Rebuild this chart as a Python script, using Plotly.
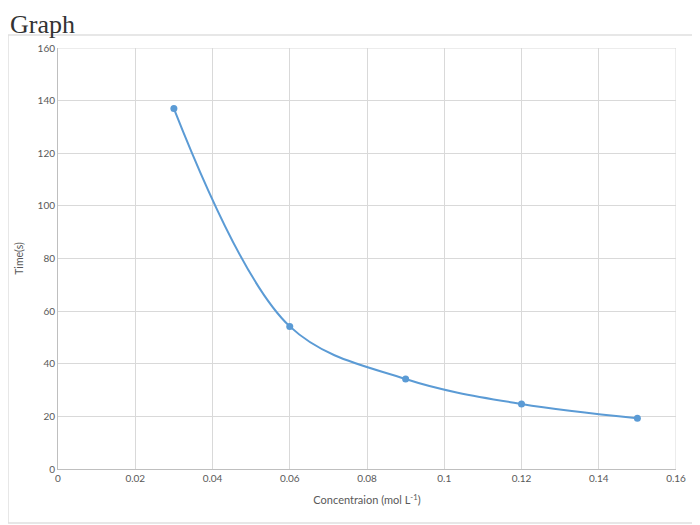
import plotly.graph_objects as go

# data
concentration = [0.03, 0.06, 0.09, 0.12, 0.15]
time_s = [137, 54.2, 34.2, 24.7, 19.3]

x_ticks = [0, 0.02, 0.04, 0.06, 0.08, 0.1, 0.12, 0.14, 0.16]
x_tick_text = ["0", "0.02", "0.04", "0.06", "0.08", "0.1", "0.12", "0.14", "0.16"]
y_ticks = [0, 20, 40, 60, 80, 100, 120, 140, 160]

blue = '#5B9BD5'
grid = '#d9d9d9'
font_family = 'Lato, Open Sans, sans-serif'
tick_font = dict(family=font_family, size=10, color='#595959')

# page body has an 8px margin, so the figure is sized/offset for that
W, H = 692, 517
L, R, T, B = 50, 24, 40, 56
pw, ph = W - L - R, H - T - B

fig = go.Figure()
fig.add_trace(go.Scatter(
    x=concentration,
    y=time_s,
    mode='lines+markers',
    line=dict(color=blue, width=2, shape='spline', smoothing=1),
    marker=dict(color=blue, size=7),
    showlegend=False
))

fig.update_xaxes(
    range=[0, 0.16],
    tickvals=x_ticks,
    ticktext=x_tick_text,
    showgrid=True, gridcolor=grid, gridwidth=1,
    zeroline=False,
    showline=True, linecolor='#bfbfbf', linewidth=1,
    ticks='', tickfont=tick_font,
    title=dict(text='Concentraion (mol L<sup>-1</sup>)',
               font=dict(family=font_family, size=11, color='#595959'),
               standoff=13),
)
fig.update_yaxes(
    range=[0, 160],
    tickvals=y_ticks,
    showgrid=True, gridcolor=grid, gridwidth=1,
    zeroline=False,
    showline=True, linecolor='#bfbfbf', linewidth=1,
    ticks='', tickfont=tick_font,
    title=dict(text='Time(s)',
               font=dict(family=font_family, size=10.5, color='#595959'),
               standoff=11),
)

# grid at right/top edge of plot area
fig.add_shape(type='line', xref='x', yref='paper', x0=0.16, x1=0.16, y0=0, y1=1,
              line=dict(color=grid, width=1))
fig.add_shape(type='line', xref='paper', yref='y', x0=0, x1=1, y0=160, y1=160,
              line=dict(color=grid, width=1))

# outer chart frame
fig.add_shape(type='rect', xref='paper', yref='paper',
              x0=-L / pw, x1=(690 - L) / pw,
              y0=-(515 - (T + ph)) / ph, y1=1 + (T - 27) / ph,
              line=dict(color='#e0e0e0', width=1.5), layer='below')

fig.add_annotation(
    text='Graph', xref='paper', yref='paper',
    x=-L / pw, y=1 + T / ph, xanchor='left', yanchor='top',
    showarrow=False,
    font=dict(family='Liberation Serif, serif', size=26, color='#333333')
)

fig.update_layout(
    width=W, height=H,
    margin=dict(l=L, r=R, t=T, b=B),
    plot_bgcolor='white',
    paper_bgcolor='white',
)

fig.write_html("out.html")
